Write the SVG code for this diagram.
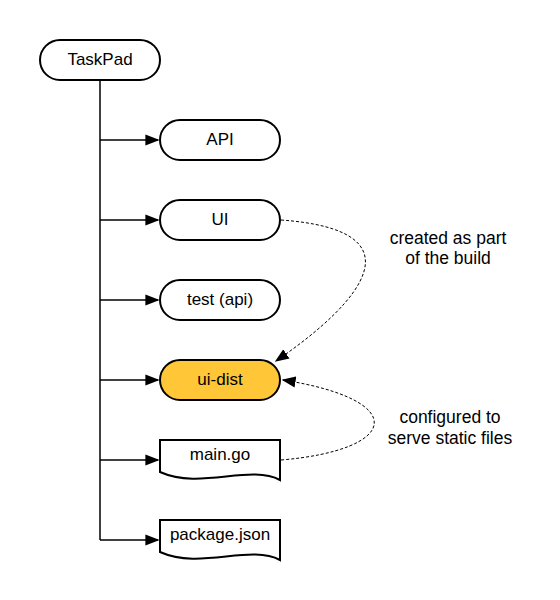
<svg xmlns="http://www.w3.org/2000/svg" width="560" height="600" viewBox="0 0 560 600">
<style>
.n{fill:#fff;stroke:#000;stroke-width:2}
.t{font-family:"Liberation Sans",Arial,sans-serif;font-size:17px;fill:#000;text-anchor:middle;dominant-baseline:central}
.l{font-size:17.5px}
.e{fill:none;stroke:#000;stroke-width:1.5}
.d{fill:none;stroke:#000;stroke-width:1;stroke-dasharray:3,2}
</style>
<defs>
<marker id="b" viewBox="0 0 10 10" refX="9" refY="5" markerWidth="14" markerHeight="14" markerUnits="userSpaceOnUse" orient="auto"><path d="M0,1 L10,5 L0,9 Z" fill="#000"/></marker>
</defs>
<rect width="560" height="600" fill="#fff"/>
<g id="connectors">
<path class="e" d="M100,80 V540"/>
<path class="e" d="M100,140 H158" marker-end="url(#b)"/>
<path class="e" d="M100,220 H158" marker-end="url(#b)"/>
<path class="e" d="M100,300 H158" marker-end="url(#b)"/>
<path class="e" d="M100,380 H158" marker-end="url(#b)"/>
<path class="e" d="M100,460 H158" marker-end="url(#b)"/>
<path class="e" d="M100,540 H158" marker-end="url(#b)"/>
<path class="d" d="M281,220 C420,230 365,300 276,361" marker-end="url(#b)"/>
<path class="d" d="M281,460 C400,450 410,400 283,380" marker-end="url(#b)"/>
</g>
<g id="taskpad"><rect class="n" x="40" y="40" width="120" height="40" rx="20"/><text class="t" x="100" y="59">TaskPad</text></g>
<g id="api"><rect class="n" x="160" y="120" width="120" height="40" rx="20"/><text class="t" x="220" y="139">API</text></g>
<g id="ui"><rect class="n" x="160" y="200" width="120" height="40" rx="20"/><text class="t" x="220" y="219">UI</text></g>
<g id="test"><rect class="n" x="160" y="280" width="120" height="40" rx="20"/><text class="t" x="220" y="299">test (api)</text></g>
<g id="uidist"><rect class="n" x="160" y="360" width="120" height="40" rx="20" style="fill:#FFC638"/><text class="t" x="220" y="379">ui-dist</text></g>
<g id="maingo"><path class="n" d="M160,440 H280 V480 C250,464 200,490 160,472 Z"/><text class="t" x="220" y="454">main.go</text></g>
<g id="packagejson"><path class="n" d="M160,520 H280 V560 C250,544 200,570 160,552 Z"/><text class="t" x="220" y="534">package.json</text></g>
<g id="labels">
<text class="t l" x="448" y="238">created as part</text>
<text class="t l" x="448" y="258">of the build</text>
<text class="t l" x="450" y="417">configured to</text>
<text class="t l" x="450" y="438">serve static files</text>
</g>
</svg>
